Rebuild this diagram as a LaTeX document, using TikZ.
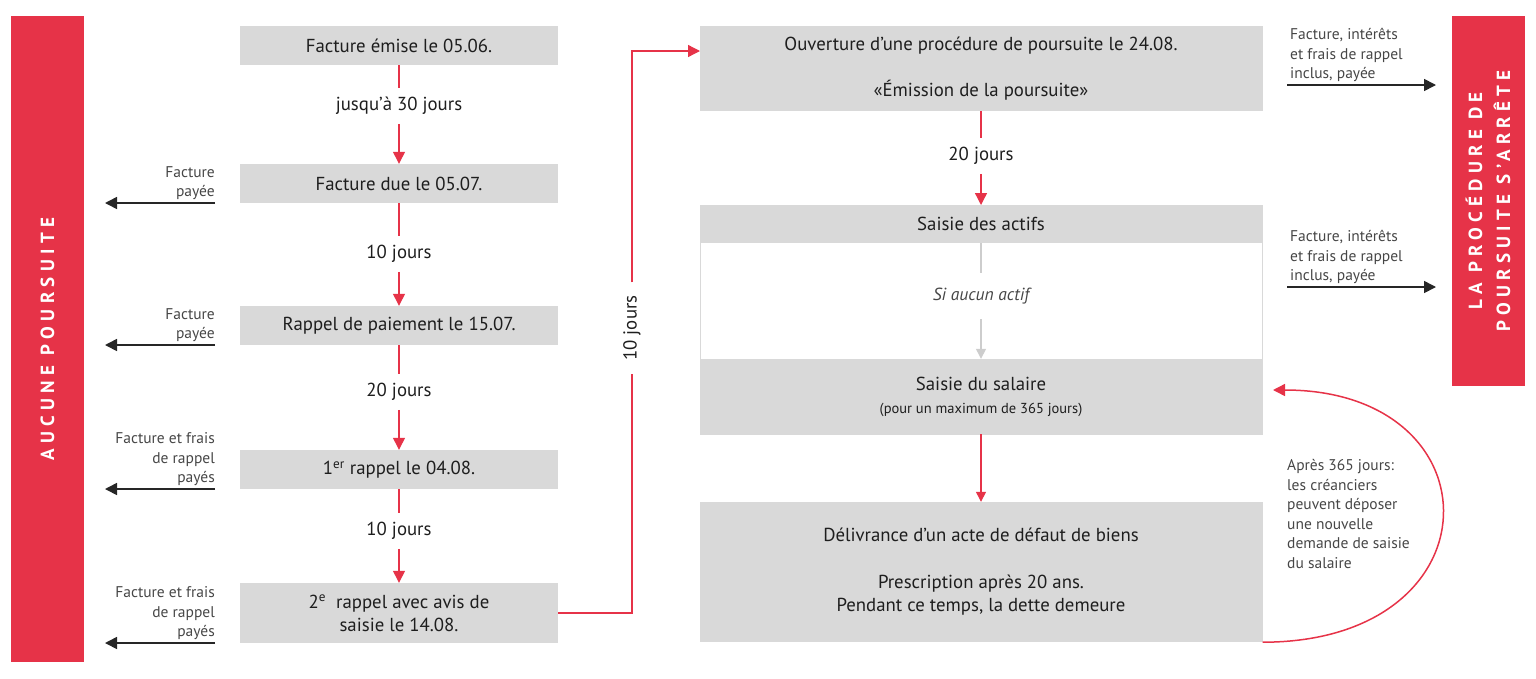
\documentclass[tikz,border=0pt]{standalone}
\usepackage{fontspec}
\setmainfont{PT Sans}
\newfontfamily\barfont[LetterSpace=28]{PT Sans}
\usepackage{xcolor}
\usetikzlibrary{arrows.meta,positioning,calc}
\definecolor{zred}{RGB}{230,51,72}
\definecolor{zgray}{RGB}{217,217,217}
\definecolor{ztext}{RGB}{30,30,30}
\definecolor{zside}{RGB}{70,70,70}
\definecolor{zlight}{RGB}{205,205,205}
\tikzset{stage/.style={fill=zgray,inner sep=0pt,align=center,text=ztext,font=\fontsize{18.8}{23}\selectfont},
  gap/.style={inner xsep=2pt,inner ysep=9pt,text=ztext,font=\fontsize{18.8}{23}\selectfont},
  paid/.style={inner sep=0pt,text=zside,font=\fontsize{15.5}{19.6}\selectfont},
  redline/.style={draw=zred,line width=1.3pt},
  redarrow/.style={redline,-{Triangle[width=12pt,length=12pt]}},
  lightarrow/.style={draw=zlight,line width=1.3pt,-{Triangle[width=10pt,length=10pt]}},
  blackarrow/.style={draw=black!85,line width=1.6pt,-{Triangle[width=12pt,length=12pt]}},
  bar/.style={fill=zred,text=white,inner sep=0pt,align=center,font=\barfont\bfseries\fontsize{19}{28}\selectfont}}

\begin{document}
\begin{tikzpicture}[x=1pt,y=-1pt]
\useasboundingbox (0,0) rectangle (1536,678);
% side bars
\node[bar,rotate=90,minimum width=646pt,minimum height=73pt] (nopursuit) at (47.5,339) {AUCUNE POURSUITE};
\node[bar,rotate=90,minimum width=370pt,minimum height=73pt] (stop) at (1488,201) {LA PROCÉDURE DE\\POURSUITE S’ARRÊTE};
% left column
\node[stage,minimum width=318pt,minimum height=39pt] (emise) at (399,45.5) {Facture émise le 05.06.};
\node[stage,minimum width=318pt,minimum height=39pt] (due) at (399,183.5) {Facture due le 05.07.};
\node[stage,minimum width=318pt,minimum height=39pt] (rappel) at (399,325.5) {Rappel de paiement le 15.07.};
\node[stage,minimum width=318pt,minimum height=39pt] (rappel1) at (399,469.5) {1\textsuperscript{er} rappel le 04.08.};
\node[stage,minimum width=318pt,minimum height=60pt] (rappel2) at (399,613) {2\textsuperscript{e}\ \ rappel avec avis de\\saisie le 14.08.};
\node[gap] (g1) at (399,106) {jusqu’à 30 jours};
\node[gap] (g2) at (399,254) {10 jours};
\node[gap] (g3) at (399,392) {20 jours};
\node[gap] (g4) at (399,531) {10 jours};
\draw[redline] (emise) -- (g1); \draw[redarrow] (g1) -- (due);
\draw[redline] (due) -- (g2); \draw[redarrow] (g2) -- (rappel);
\draw[redline] (rappel) -- (g3); \draw[redarrow] (g3) -- (rappel1);
\draw[redline] (rappel1) -- (g4); \draw[redarrow] (g4) -- (rappel2);
% paid before pursuit
\foreach \y/\txt [count=\i] in {203/{Facture\\payée},345/{Facture\\payée},489/{Facture et frais\\de rappel\\payés},643/{Facture et frais\\de rappel\\payés}}{
  \coordinate (pay\i) at (215,\y);
  \coordinate (out\i) at (105,\y);
  \node[paid,anchor=south east,align=right] (paid\i) at ($(pay\i)+(0,-3)$) {\txt};
  \draw[blackarrow] (pay\i) -- (out\i);
}
% 10 days to pursuit
\node[gap,rotate=90,inner xsep=13pt] (g10) at (632,328) {10 jours};
\coordinate (entry) at (700,51);
\draw[redline] (rappel2.east) -| (g10);
\draw[redarrow] (g10) |- (entry);
% right column
\node[stage,minimum width=563pt,minimum height=85pt] (ouverture) at (981,68.5) {Ouverture d’une procédure de poursuite le 24.08.\\[23pt]«Émission de la poursuite»};
\node[gap] (g5) at (981,156) {20 jours};
\draw[redline] (ouverture) -- (g5); \draw[redarrow] (g5) -- (ouverture |- 0,205);
\node[draw=zgray,line width=1pt,minimum width=562pt,minimum height=229pt] (saisie) at (981,319.5) {};
\node[stage,minimum width=563pt,minimum height=38pt] (actifs) at (981,224) {Saisie des actifs};
\node[stage,minimum width=563pt,minimum height=75pt] (salaire) at (981,396.5) {Saisie du salaire\\{\fontsize{14.5}{18}\selectfont(pour un maximum de 365 jours)}};
\node[gap,inner ysep=15pt,text=zside,font=\fontsize{17.5}{20}\selectfont\itshape] (sinon) at (981,296) {Si aucun actif};
\draw[draw=zlight,line width=1.3pt] (actifs) -- (sinon);
\draw[lightarrow] (sinon) -- (salaire);
\node[stage,minimum width=563pt,minimum height=140pt] (defaut) at (981,572) {Délivrance d’un acte de défaut de biens\\[24pt]Prescription après 20 ans.\\Pendant ce temps, la dette demeure};
\draw[redarrow,-{Triangle[width=10pt,length=10pt]}] (salaire) -- (defaut);
% paid during pursuit
\coordinate (fin1) at (1287,85); \coordinate (end1) at (1436,85);
\coordinate (fin2) at (1287,287); \coordinate (end2) at (1436,287);
\node[paid,anchor=south west,align=left] (paid5) at ($(fin1)+(3,-3)$) {Facture, intérêts\\et frais de rappel\\inclus, payée};
\node[paid,anchor=south west,align=left] (paid6) at ($(fin2)+(3,-3)$) {Facture, intérêts\\et frais de rappel\\inclus, payée};
\draw[blackarrow] (fin1) -- (end1);
\draw[blackarrow] (fin2) -- (end2);
% new wage seizure
\coordinate (again) at (1273,390);
\draw[redarrow,line width=1.5pt] (defaut.south east) .. controls (1500,642) and (1500,390) .. (again);
\node[paid,anchor=west,align=left] (renew) at (1287,514) {Après 365 jours:\\les créanciers\\peuvent déposer\\une nouvelle\\demande de saisie\\du salaire};
\end{tikzpicture}
\end{document}
